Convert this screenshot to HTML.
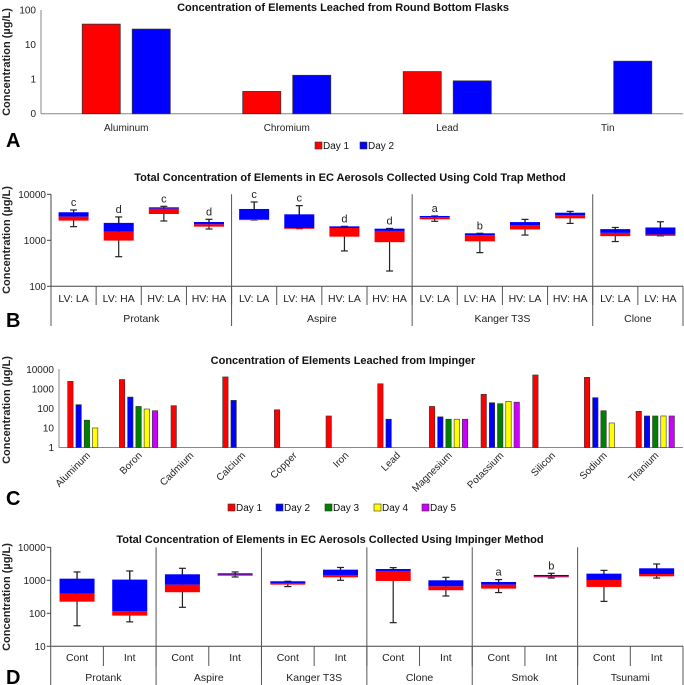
<!DOCTYPE html>
<html><head><meta charset="utf-8">
<style>
html,body{margin:0;padding:0;background:#fff;}
svg{display:block;font-family:"Liberation Sans",Arial,sans-serif;}
</style></head>
<body>
<svg id="fig" width="684" height="685" viewBox="0 0 684 685" xmlns="http://www.w3.org/2000/svg">
<g id="pA"></g>
<g id="pB"></g>
<g id="pC"></g>
<g id="pD"></g>
</svg>
<script>
// ---------- Panel A data ----------
const aCategories = ["Aluminum","Chromium","Lead","Tin"];
const aDay1 = [39, 0.44, 1.65, null];
const aDay2 = [28, 1.29, 0.89, 3.3];
const aTicks = [100, 10, 1, 0.1];
const aTickLabels = ["100","10","1","0"];

// ---------- Panel B data ----------
const bGroups = ["Protank","Aspire","Kanger T3S","Clone"];
const bGroupSizes = [4,4,4,2];
const bSub = ["LV: LA","LV: HA","HV: LA","HV: HA","LV: LA","LV: HA","HV: LA","HV: HA","LV: LA","LV: HA","HV: LA","HV: HA","LV: LA","LV: HA"];
const bTop = [4070,2390,5210,2500,4800,3670,2010,1790,3380,1420,2490,3980,1750,1900];
const bMid = [3270,1540,4880,2230,2860,1850,1850,1600,3160,1300,2150,3540,1450,1340];
const bBot = [2680,985,3730,1980,2770,1790,1200,910,2860,950,1720,3000,1230,1250];
const bMax = [4560,3220,5480,2860,6810,5670,2010,1810,3380,1420,2850,4250,1900,2530];
const bMin = [1980,440,2630,1760,2770,1790,587,215,2590,540,1300,2330,940,1250];
const bLetters = ["c","d","c","d","c","c","d","d","a","b","","","",""];
const bTicks = [10000,1000,100];

// ---------- Panel C data ----------
const cCategories = ["Aluminum","Boron","Cadmium","Calcium","Copper","Iron","Lead","Magnesium","Potassium","Silicon","Sodium","Titanium"];
const cDay1 = [2420,3010,138,4070,85,41,1820,126,525,5130,3890,71];
const cDay2 = [155,380,null,257,null,null,28,37,195,null,354,41];
const cDay3 = [25,126,null,null,null,null,null,28,174,null,76,41];
const cDay4 = [10,93,null,null,null,null,null,28,229,null,18,41];
const cDay5 = [null,76,null,null,null,null,null,28,209,null,null,41];
const cTicks = [10000,1000,100,10,1];

// ---------- Panel D data ----------
const dGroups = ["Protank","Aspire","Kanger T3S","Clone","Smok","Tsunami"];
const dSub = ["Cont","Int","Cont","Int","Cont","Int","Cont","Int","Cont","Int","Cont","Int"];
const dTop = [1120,1050,1520,1630,935,2100,2200,1000,890,1450,1590,2310];
const dMid = [395,115,740,1490,830,1450,1920,660,740,1320,1020,1550];
const dBot = [225,85,435,1380,740,1230,955,500,560,1230,630,1320];
const dMax = [1790,1920,2310,1790,935,2450,2420,1230,1050,1630,2000,3120];
const dMin = [42,55,152,1260,645,1000,52,335,425,1170,230,1170];
const dLetters = ["","","","","","","","","a","b","",""];
const dTicks = [10000,1000,100,10];

const NS="http://www.w3.org/2000/svg";
function mk(parent, tag, attrs, text){
  const e=document.createElementNS(NS,tag);
  for(const k in attrs) e.setAttribute(k,attrs[k]);
  if(text!==undefined) e.textContent=text;
  parent.appendChild(e); return e;
}
function logScale(vTop, yTop, vBot, yBot){
  const a=Math.log10(vTop), b=Math.log10(vBot);
  return v => yBot + (Math.log10(v)-b)/(a-b)*(yTop-yBot);
}
const RED="#ff0000", BLUE="#0000ff", GREEN="#008000", YEL="#ffff00", PUR="#cc00ff";

function yTitle(g, label, cx, cy){
  const t=mk(g,"text",{x:0,y:0,transform:`translate(${cx},${cy}) rotate(-90)`,"text-anchor":"middle","font-size":"11","font-weight":"bold",fill:"#222"},label);
  
  
}
function panelLetter(g, L, x, y){
  const t=mk(g,"text",{x:x,y:y,"font-size":"20","font-weight":"bold",fill:"#000"},L);
  
  
}
function title(g, s, cx, y){
  const t=mk(g,"text",{x:cx,y:y,"text-anchor":"middle","font-size":"11","font-weight":"bold",fill:"#111"},s);
  
  
}
function legendItem(g, x, y, color, label){
  const r=mk(g,"rect",{x:x,y:y-7,width:7,height:7,fill:color,stroke:"#333","stroke-width":"0.6"});
  
  
  const t=mk(g,"text",{x:x+8,y:y,"font-size":"10",fill:"#111"},label);
  
  
}

// ===== Panel A =====
(function(){
  const g=document.getElementById("pA");
  const x0=41, x1=683, yB=113.7;
  const y=logScale(100,10,0.1,113.7);
  title(g,"Concentration of Elements Leached from Round Bottom Flasks",343,11);
  yTitle(g,"Concentration (µg/L)",10,62);
  mk(g,"line",{x1:x0,y1:10,x2:x0,y2:yB,stroke:"#888","stroke-width":"1"});
  mk(g,"line",{x1:x0,y1:yB,x2:x1,y2:yB,stroke:"#888","stroke-width":"1"});
  aTicks.forEach((v,i)=>{
    const t=mk(g,"text",{x:x0-5,y:y(v)+3.5,"text-anchor":"end","font-size":"10",fill:"#222"},aTickLabels[i]);
    
    
  });
  const cw=(x1-x0)/aCategories.length;
  aCategories.forEach((c,i)=>{
    const cx=x0+(i+0.5)*cw+5;
    [[aDay1[i],cx-44,RED],[aDay2[i],cx+6,BLUE]].forEach(([v,bx,col])=>{
      if(v==null) return;
      const r=mk(g,"rect",{x:bx,y:y(v),width:38,height:yB-y(v),fill:col,stroke:"#333","stroke-width":"0.8"});
      
      
    });
    const t=mk(g,"text",{x:cx,y:131,"text-anchor":"middle","font-size":"10",fill:"#222"},c);
    
    
  });
  legendItem(g,315,149,RED,"Day 1");
  legendItem(g,360,149,BLUE,"Day 2");
  panelLetter(g,"A",6,147);
})();

// ===== Box panels (B and D) =====
function boxPanel(g, opt){
  const {x0,x1,yTopV,yTop,yBotV,yBot,groups,sizes,sub,top,mid,bot,max,min,letters,ticks,boxW,subLabelY,subDivEnd,grpLabelY,grpDivEnd}=opt;
  const y=logScale(yTopV,yTop,yBotV,yBot);
  mk(g,"line",{x1:x0,y1:yTop,x2:x0,y2:yBot,stroke:"#444","stroke-width":"1"});
  mk(g,"line",{x1:x0,y1:yBot,x2:x1,y2:yBot,stroke:"#444","stroke-width":"1"});
  ticks.forEach(v=>{
    mk(g,"line",{x1:x0-4,y1:y(v),x2:x0,y2:y(v),stroke:"#444"});
    const t=mk(g,"text",{x:x0-5,y:y(v)+3.5,"text-anchor":"end","font-size":"10",fill:"#222"},String(v));
    
    
  });
  const sw=(x1-x0)/sub.length;
  let idx=0;
  groups.forEach((gn,gi)=>{
    const gs=x0+idx*sw, ge=x0+(idx+sizes[gi])*sw;
    if(gi>0) mk(g,"line",{x1:gs,y1:yTop,x2:gs,y2:grpDivEnd,stroke:"#555","stroke-width":"1"});
    else mk(g,"line",{x1:gs,y1:yBot,x2:gs,y2:grpDivEnd,stroke:"#555","stroke-width":"1"});
    const t=mk(g,"text",{x:(gs+ge)/2,y:grpLabelY,"text-anchor":"middle","font-size":"10.5",fill:"#222"},gn);
    
    
    idx+=sizes[gi];
  });
  mk(g,"line",{x1:x1,y1:yBot,x2:x1,y2:grpDivEnd,stroke:"#555","stroke-width":"1"});
  sub.forEach((s,i)=>{
    const cx=x0+(i+0.5)*sw;
    if(i>0) mk(g,"line",{x1:x0+i*sw,y1:yBot,x2:x0+i*sw,y2:subDivEnd,stroke:"#555","stroke-width":"1"});
    const t=mk(g,"text",{x:cx,y:subLabelY,"text-anchor":"middle","font-size":"10.5",fill:"#222"},s);
    
    
    // whisker
    const wk=mk(g,"line",{x1:cx,y1:y(max[i]),x2:cx,y2:y(min[i]),stroke:"#222","stroke-width":"1.2"});
    
    
    mk(g,"line",{x1:cx-3.5,y1:y(max[i]),x2:cx+3.5,y2:y(max[i]),stroke:"#222","stroke-width":"1.2"});
    mk(g,"line",{x1:cx-3.5,y1:y(min[i]),x2:cx+3.5,y2:y(min[i]),stroke:"#222","stroke-width":"1.2"});
    const rb=mk(g,"rect",{x:cx-boxW/2,y:y(mid[i]),width:boxW,height:Math.max(0.8,y(bot[i])-y(mid[i])),fill:RED});
    
    
    const bb=mk(g,"rect",{x:cx-boxW/2,y:y(top[i]),width:boxW,height:Math.max(0.8,y(mid[i])-y(top[i])),fill:BLUE});
    
    
    mk(g,"line",{x1:cx,y1:y(max[i]),x2:cx,y2:y(top[i]),stroke:"#222","stroke-width":"1.2"});
    if(letters[i]){
      const lt=mk(g,"text",{x:cx,y:y(max[i])-4,"text-anchor":"middle","font-size":"11",fill:"#222"},letters[i]);
      
      
    }
  });
}

// ===== Panel B =====
(function(){
  const g=document.getElementById("pB");
  title(g,"Total Concentration of Elements in EC Aerosols Collected Using Cold Trap Method",350,181);
  yTitle(g,"Concentration (µg/L)",10,240);
  boxPanel(g,{x0:51,x1:683,yTopV:10000,yTop:194.3,yBotV:100,yBot:286.3,groups:bGroups,sizes:bGroupSizes,sub:bSub,
    top:bTop,mid:bMid,bot:bBot,max:bMax,min:bMin,letters:bLetters,ticks:bTicks,boxW:30,
    subLabelY:302,subDivEnd:305,grpLabelY:322,grpDivEnd:326});
  panelLetter(g,"B",6,327);
})();

// ===== Panel C =====
(function(){
  const g=document.getElementById("pC");
  const x0=59, x1=683, yB=447.5;
  const y=logScale(10000,369.3,1,447.5);
  title(g,"Concentration of Elements Leached from Impinger",343,364);
  yTitle(g,"Concentration (µg/L)",10,410);
  mk(g,"line",{x1:x0,y1:369,x2:x0,y2:yB,stroke:"#888"});
  mk(g,"line",{x1:x0,y1:yB,x2:x1,y2:yB,stroke:"#888"});
  cTicks.forEach(v=>{
    const t=mk(g,"text",{x:x0-5,y:y(v)+3.5,"text-anchor":"end","font-size":"10",fill:"#222"},String(v));
    
    
  });
  const cs=63, cw=(x1-cs)/cCategories.length;
  const series=[[cDay1,RED,"day1"],[cDay2,BLUE,"day2"],[cDay3,GREEN,"day3"],[cDay4,YEL,"day4"],[cDay5,PUR,"day5"]];
  cCategories.forEach((c,i)=>{
    const st=cs+i*cw;
    series.forEach(([arr,col,nm],k)=>{
      const v=arr[i]; if(v==null) return;
      const r=mk(g,"rect",{x:st+4.7+k*8.25,y:y(v),width:5.4,height:yB-y(v),fill:col,stroke:"#333","stroke-width":"0.6"});
      
      
    });
    const cx=st+cw/2+2;
    const t=mk(g,"text",{x:0,y:0,transform:`translate(${cx},${456}) rotate(-45)`,"text-anchor":"end","font-size":"10",fill:"#222"},c);
    
    
  });
  const lx=[228,276,325,374,422];
  ["Day 1","Day 2","Day 3","Day 4","Day 5"].forEach((s,k)=>legendItem(g,lx[k],511,series[k][1],s));
  panelLetter(g,"C",6,505);
})();

// ===== Panel D =====
(function(){
  const g=document.getElementById("pD");
  title(g,"Total Concentration of Elements in EC Aerosols Collected Using Impinger Method",330,543);
  yTitle(g,"Concentration (µg/L)",10,597);
  boxPanel(g,{x0:50.7,x1:683,yTopV:10000,yTop:547.3,yBotV:10,yBot:646.3,groups:dGroups,sizes:[2,2,2,2,2,2],sub:dSub,
    top:dTop,mid:dMid,bot:dBot,max:dMax,min:dMin,letters:dLetters,ticks:dTicks,boxW:35,
    subLabelY:661,subDivEnd:666,grpLabelY:681,grpDivEnd:685});
  panelLetter(g,"D",6,684);
})();
</script>
</body></html>
